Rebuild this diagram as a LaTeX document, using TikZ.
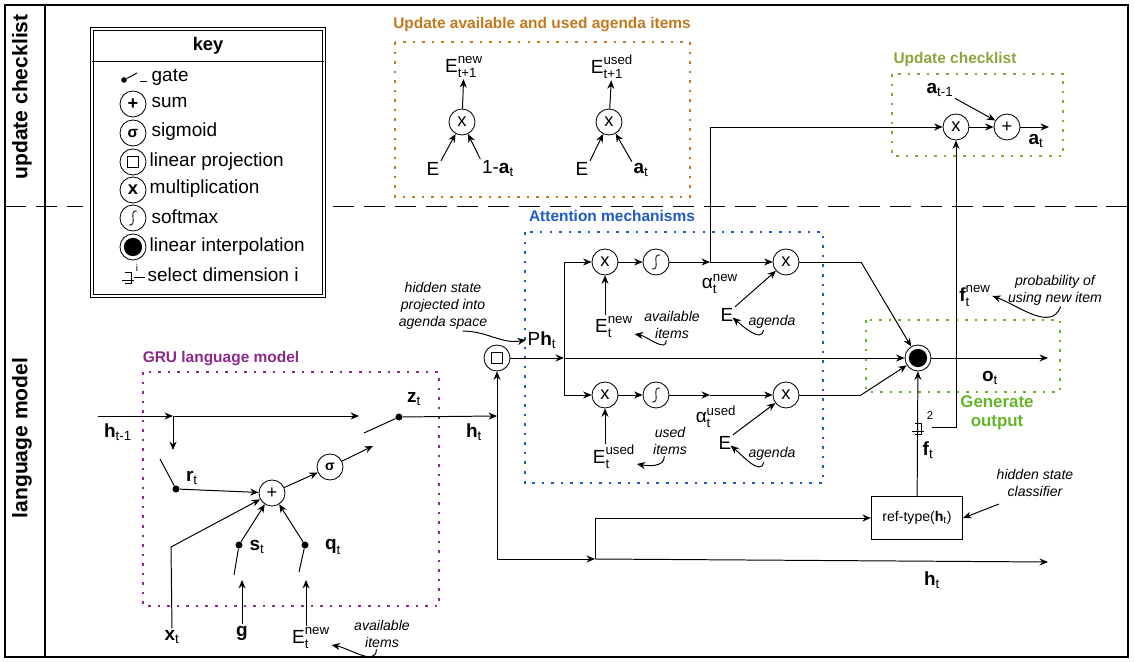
\documentclass[tikz,border=0pt]{standalone}
\usepackage{fontspec}
\setmainfont{Liberation Sans}
\usepackage{amsmath}
\usetikzlibrary{arrows.meta}
\definecolor{orangebox}{RGB}{196,120,30}
\definecolor{olivebox}{RGB}{140,165,60}
\definecolor{greenbox}{RGB}{100,180,40}
\definecolor{bluebox}{RGB}{30,90,200}
\definecolor{purplebox}{RGB}{140,40,140}
\newcommand{\lab}[3]{$\text{#1}^{\text{#2}}_{\text{#3}}$}
\tikzset{
  op/.style={circle,draw,line width=0.6pt,minimum size=18.5pt,inner sep=0pt,font=\fontsize{13}{13}\selectfont},
  smx/.style={op,path picture={\draw[line width=0.6pt] ([xshift=-3pt,yshift=-5pt]path picture bounding box.center) .. controls ([xshift=4pt,yshift=-6pt]path picture bounding box.center) and ([xshift=-4pt,yshift=6pt]path picture bounding box.center) .. ([xshift=3pt,yshift=5pt]path picture bounding box.center);}},
  proj/.style={op,path picture={\draw[line width=0.6pt] ([shift={(-4pt,-4pt)}]path picture bounding box.center) rectangle ([shift={(4pt,4pt)}]path picture bounding box.center);}},
  interp/.style={op,path picture={\fill (path picture bounding box.center) circle (6.5pt);}},
  dot/.style={circle,fill,inner sep=0pt,minimum size=5pt},
  arr/.style={-{Stealth[length=6pt,width=5pt]},line width=0.7pt},
  ln/.style={line width=0.7pt},
  lbl/.style={font=\fontsize{13.5}{15}\selectfont,inner sep=1pt},
  note/.style={font=\fontsize{10}{12}\selectfont\itshape,align=center,inner sep=1pt},
  title/.style={font=\fontsize{11}{13}\selectfont\bfseries,inner sep=1pt},
  region/.style={line width=1.5pt,dash pattern=on 1.8pt off 5pt},
}
\begin{document}
\begin{tikzpicture}[x=0.025cm,y=-0.025cm]
\useasboundingbox (0,0) rectangle (1134,662);

%Frame
\draw[line width=0.8pt] (5,5) rectangle (1128,657);
\draw[line width=0.8pt] (45,5) -- (45,657);
\draw[line width=0.7pt,dash pattern=on 15pt off 7pt] (5,206) -- (83,206);
\draw[line width=0.7pt,dash pattern=on 15pt off 7pt] (333,206) -- (1128,206);
\node[rotate=90,font=\fontsize{15}{17}\selectfont\bfseries] at (22,97) (upd) {update checklist};
\node[rotate=90,font=\fontsize{15}{17}\selectfont\bfseries] at (22,438) (lm) {language model};

%Key
\draw[double,double distance=1.2pt,line width=0.5pt] (92,29) rectangle (324,296);
\draw[line width=0.7pt] (92,61) -- (324,61);
\node[lbl,font=\fontsize{13}{15}\selectfont\bfseries] at (208,46) (key) {key};
\node[dot,minimum size=4pt] at (124,80) (kg) {};
\draw[ln] (kg) -- (137,73);
\draw[ln] (140,81) -- (147,81);
\node[lbl,anchor=west] at (150,77) (kgt) {gate};
\node[op] at (133,104) (ks) {\textbf{+}};
\node[lbl,anchor=west] at (150,102) (kst) {sum};
\node[op,font=\fontsize{11}{11}\selectfont] at (133,133) (ksg) {\textbf{σ}};
\node[lbl,anchor=west] at (150,132) (ksgt) {sigmoid};
\node[proj] at (133,162) (kp) {};
\node[lbl,anchor=west] at (148,162) (kpt) {linear projection};
\node[op] at (133,190) (km) {\textbf{x}};
\node[lbl,anchor=west] at (148,189) (kmt) {multiplication};
\node[smx] at (133,218) (kf) {};
\node[lbl,anchor=west] at (150,217) (kft) {softmax};
\node[interp] at (133,247) (ki) {};
\node[lbl,anchor=west] at (148,247) (kit) {linear interpolation};
\draw[ln] (122,280) -- (134,280);
\draw[ln] (125,272) -- (131,272) -- (131,283) -- (125,283);
\draw[ln] (134,277) -- (145,277);
\node[font=\fontsize{7}{7}\selectfont] at (137,268) (kii) {i};
\node[lbl,anchor=west] at (146,275) (kst2) {select dimension i};

%Update available and used agenda items
\draw[region,orangebox] (395,42) rectangle (690,197);
\node[title,orangebox] at (542,25) (ttlA) {Update available and used agenda items};
\node[op] at (462,122) (xA) {x};
\node[lbl] at (464,67) (EnA) {\lab{E}{new}{t+1}};
\node[lbl] at (433,169) (EA) {E};
\node[lbl] at (498,169) (omA) {1-$\textbf{a}_{\text{t}}$};
\draw[arr] (xA) -- (EnA);
\draw[arr] (EA.north east) -- (xA);
\draw[arr] (omA.north west) -- (xA);
\node[op] at (609,122) (xB) {x};
\node[lbl] at (612,67) (EuB) {\lab{E}{used}{t+1}};
\node[lbl] at (582,169) (EB) {E};
\node[lbl] at (641,170) (aB) {$\textbf{a}_{\text{t}}$};
\draw[arr] (xB) -- (EuB);
\draw[arr] (EB.north east) -- (xB);
\draw[arr] (aB.north west) -- (xB);

%Update checklist
\draw[region,olivebox] (892,74) rectangle (1063,156);
\node[title,olivebox] at (955,60) (ttlC) {Update checklist};
\node[op] at (956,127) (xC) {x};
\node[op] at (1007,127) (pC) {+};
\node[lbl] at (940,90) (am1) {$\textbf{a}_{\text{t-1}}$};
\node[lbl] at (1036,141) (atC) {$\textbf{a}_{\text{t}}$};
\coordinate (aout) at (1049,127);
\draw[arr] (xC) -- (pC);
\draw[arr] (am1.south east) -- (pC);
\draw[arr] (pC) -- (aout);

%Attention mechanisms
\draw[region,bluebox] (525,232) rectangle (823,483);
\node[title,bluebox] at (612,216) (ttlB) {Attention mechanisms};
\node[proj] at (497,358) (prj) {};
\node[lbl] at (542,340) (Ph) {P$\textbf{h}_{\text{t}}$};
\coordinate (br) at (564,358);
\node[op] at (605,262) (xT1) {x};
\node[smx] at (656,262) (sT) {};
\coordinate (anew) at (710,262);
\node[op] at (786,262) (xT2) {x};
\node[op] at (605,395) (xB1) {x};
\node[smx] at (656,395) (sB) {};
\coordinate (aused) at (710,395);
\node[op] at (786,395) (xB2) {x};
\node[lbl] at (720,284) (alT) {\lab{α}{new}{t}};
\node[lbl] at (716,417) (alB) {\lab{α}{used}{t}};
\draw[arr] (prj) -- (br);
\draw[arr] (br) |- (xT1);
\draw[arr] (br) |- (xB1);
\draw[arr] (xT1) -- (sT);
\draw[arr] (sT) -- (anew);
\draw[arr] (anew) -- (xT2);
\draw[arr] (xB1) -- (sB);
\draw[arr] (sB) -- (aused);
\draw[arr] (aused) -- (xB2);
\draw[arr] (anew) |- (xC);
\node[lbl] at (614,327) (EnT) {\lab{E}{new}{t}};
\node[note] at (672,325) (avT) {available\\items};
\draw[arr] (EnT.north -| xT1) -- (xT1);
\draw[arr] ([xshift=-4pt]avT.south) to[out=-90,in=-10] ([yshift=-5pt]EnT.east);
\node[lbl] at (727,315) (EaT) {E};
\node[note] at (772,322) (agT) {agenda};
\draw[arr] (EaT.north east) -- (xT2);
\draw[arr] ([xshift=-6pt]agT.south) to[out=-100,in=-40] ([xshift=4pt,yshift=4pt]EaT.south);
\node[lbl] at (614,457) (EuT) {\lab{E}{used}{t}};
\node[note] at (670,441) (usT) {used\\items};
\draw[arr] (EuT.north -| xB1) -- (xB1);
\draw[arr] ([xshift=-4pt]usT.south) to[out=-90,in=-10] ([yshift=-5pt]EuT.east);
\node[lbl] at (725,443) (EaB) {E};
\node[note] at (772,454) (agB) {agenda};
\draw[arr] (EaB.north east) -- (xB2);
\draw[arr] ([xshift=-6pt]agB.south) to[out=-100,in=-40] ([xshift=4pt,yshift=4pt]EaB.south);
\node[note] at (443,306) (hsp) {hidden state\\projected into\\agenda space};
\draw[arr] ([xshift=14pt]hsp.south) to[out=0,in=190] (Ph.west);

%Generate output
\draw[region,greenbox] (866,320) rectangle (1060,392);
\node[title,greenbox,align=center,font=\fontsize{12}{14}\selectfont\bfseries] at (997,413) (ttlG) {Generate\\output};
\node[interp] at (918,358) (ip) {};
\coordinate (kT) at (861,262);
\coordinate (kB) at (861,395);
\coordinate (oout) at (1048,358);
\draw[ln] (xT2) -- (kT);
\draw[arr] (kT) -- (ip);
\draw[ln] (xB2) -- (kB);
\draw[arr] (kB) -- (ip);
\draw[arr] (br) -- (ip);
\draw[arr] (ip) -- (oout);
\node[lbl] at (990,378) (ot) {$\textbf{o}_{\text{t}}$};
\node[lbl] at (975,296) (fn) {$\textbf{f}^{\text{new}}_{\text{t}}$};
\node[note] at (1055,290) (pr) {probability of\\using new item};
\draw[arr] ([xshift=4pt]pr.south) to[out=-110,in=-20] (fn.east);
%select dimension
\coordinate (sel) at (932,427);
\draw[ln] (912,431) -- (924,431);
\draw[ln] (915,423) -- (921,423) -- (921,434) -- (915,434);
\node[font=\fontsize{8}{8}\selectfont] at (930,416) (s2) {2};
\draw[arr] (sel) -| (xC);
\node[lbl,anchor=west] at (921,450) (ft) {$\textbf{f}_{\text{t}}$};

%classifier
\node[draw,line width=0.6pt,minimum width=65pt,minimum height=31pt,font=\fontsize{10}{12}\selectfont] at (917,518) (ref) {ref-type($\textbf{h}_{\text{t}}$)};
\draw[arr] (ref) -- (ip);
\node[note] at (1035,483) (hsc) {hidden state\\classifier};
\draw[arr] (999,504) -- (ref.east);
\coordinate (b0) at (497,559);
\coordinate (b1) at (595,559);
\coordinate (hend) at (1048,562);
\draw[arr] (b0) -- (prj);
\draw[arr] (b0) -- (b1);
\draw[arr] (b1) -- (hend);
\draw[arr] (b1) |- (ref);
\node[lbl] at (932,580) (htb) {$\textbf{h}_{\text{t}}$};

%GRU language model
\draw[region,purplebox] (143,372) rectangle (439,606);
\node[title,purplebox] at (221,359) (ttlD) {GRU language model};
\coordinate (hin) at (98,416);
\coordinate (hsp1) at (173,416);
\coordinate (hz) at (359,416);
\coordinate (hout) at (497,416);
\node[lbl] at (118,432) (hm1) {$\textbf{h}_{\text{t-1}}$};
\draw[arr] (hin) -- (hsp1);
\draw[arr] (hsp1) -- (hz);
\draw[arr] (hsp1) -- (173,450);
\node[op] at (272,493) (pl) {+};
\node[op,font=\fontsize{10}{10}\selectfont\bfseries] at (330,467) (sg) {σ};
\node[dot] at (176,489) (rd) {};
\draw[ln] (160,459) -- (rd);
\node[lbl] at (192,478) (rt) {$\textbf{r}_{\text{t}}$};
\draw[arr] (rd) -- (pl);
\draw[arr] (pl) -- (sg);
\draw[arr] (sg) -- (373,446);
\node[dot] at (399,417) (zd) {};
\draw[ln] (364,433) -- (zd);
\node[lbl] at (414,399) (zt) {$\textbf{z}_{\text{t}}$};
\draw[arr] (zd) -- (hout);
\node[lbl] at (474,432) (ht) {$\textbf{h}_{\text{t}}$};
\node[lbl] at (172,637) (xt) {$\textbf{x}_{\text{t}}$};
\draw[arr] (xt.north) -- (171,547) -- (pl);
\node[dot] at (239,545) (sd) {};
\draw[ln] (234,575) -- (sd);
\draw[arr] (sd) -- (pl);
\node[lbl] at (257,547) (st) {$\textbf{s}_{\text{t}}$};
\node[lbl] at (242,633) (g) {\textbf{g}};
\draw[arr] (g.north) -- (242,580);
\node[dot] at (305,545) (qd) {};
\draw[ln] (299,572) -- (qd);
\draw[arr] (qd) -- (pl);
\node[lbl] at (333,547) (qt) {$\textbf{q}_{\text{t}}$};
\node[lbl] at (311,638) (Eg) {\lab{E}{new}{t}};
\draw[arr] (Eg.north -| 306,0) -- (306,580);
\node[note] at (382,634) (avg) {available\\items};
\draw[arr] ([xshift=-4pt]avg.south) to[out=-90,in=-10] ([yshift=-5pt]Eg.east);
\end{tikzpicture}
\end{document}
